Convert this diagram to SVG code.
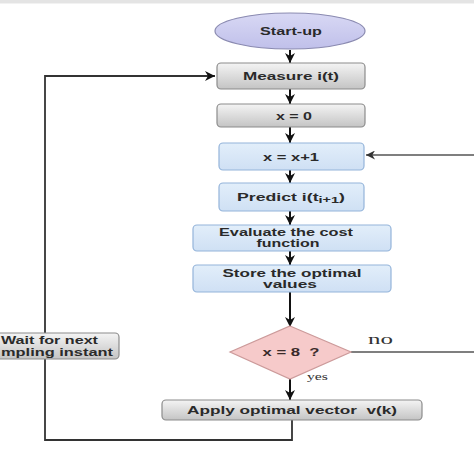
<svg xmlns="http://www.w3.org/2000/svg" width="474" height="474" viewBox="0 0 474 474">
<defs>
<linearGradient id="gGray" x1="0" y1="0" x2="0" y2="1">
<stop offset="0" stop-color="#f4f4f4"/><stop offset="1" stop-color="#c4c4c4"/>
</linearGradient>
<linearGradient id="gBlue" x1="0" y1="0" x2="0" y2="1">
<stop offset="0" stop-color="#e2eefa"/><stop offset="1" stop-color="#cfe0f4"/>
</linearGradient>
<linearGradient id="gEll" x1="0" y1="0" x2="0" y2="1">
<stop offset="0" stop-color="#d8d8f4"/><stop offset="1" stop-color="#c0c0ea"/>
</linearGradient>
<marker id="ah" viewBox="0 0 10 10" refX="10" refY="5" markerWidth="10" markerHeight="10" markerUnits="userSpaceOnUse" orient="auto">
<path d="M0,0 L10,5 L0,10 L3,5 z" fill="#111"/>
</marker>
<marker id="ahg" viewBox="0 0 10 10" refX="10" refY="5" markerWidth="10" markerHeight="9" markerUnits="userSpaceOnUse" orient="auto">
<path d="M0,0 L10,5 L0,10 L3,5 z" fill="#333"/>
</marker>
</defs>
<style>
.gray{fill:url(#gGray);stroke:#8c8c8c;stroke-width:1.2}
.blue{fill:url(#gBlue);stroke:#94b4da;stroke-width:1.2}
.t{font-family:"Liberation Sans",Arial,sans-serif;font-weight:bold;font-size:11px;fill:#2a2a2a;text-anchor:middle;white-space:pre}
.s{font-family:"Liberation Serif","Times New Roman",serif;fill:#333}
.arr{stroke:#111;stroke-width:2;fill:none;marker-end:url(#ah)}
.ln{stroke:#333;stroke-width:1.8;fill:none}
.lg{stroke:#555;stroke-width:1.5;fill:none}
</style>
<rect x="0" y="0" width="474" height="3" fill="#e4e4e4"/>
<rect x="0" y="3" width="474" height="1" fill="#f2f2f2"/>

<g id="connectors">
<line class="arr" x1="290" y1="50" x2="290" y2="63"/>
<line class="arr" x1="290" y1="89" x2="290" y2="104"/>
<line class="arr" x1="290" y1="127" x2="290" y2="143"/>
<line class="arr" x1="290" y1="170" x2="290" y2="183"/>
<line class="arr" x1="290" y1="211" x2="290" y2="225"/>
<line class="arr" x1="290" y1="251" x2="290" y2="265"/>
<line class="arr" x1="290" y1="292" x2="290" y2="327"/>
<line class="arr" x1="290" y1="379" x2="290" y2="400"/>
<polyline class="ln" points="292,420 292,440 45,440 45,359"/>
<polyline class="ln" points="45,333 45,76 215,76" style="marker-end:url(#ah)"/>
<polyline class="lg" points="351,352 474,352"/>
<line class="lg" x1="474" y1="155" x2="366" y2="155" style="marker-end:url(#ahg)"/>
</g>

<g id="start">
<ellipse cx="290" cy="31" rx="75" ry="18" fill="url(#gEll)" stroke="#8a8ab0" stroke-width="1.2"/>
<text class="t" x="291" y="35" textLength="62" lengthAdjust="spacingAndGlyphs">Start-up</text>
</g>
<g id="measure">
<rect class="gray" x="217" y="63" width="148" height="26" rx="4"/>
<text class="t" x="291" y="80" textLength="96" lengthAdjust="spacingAndGlyphs">Measure i(t)</text>
</g>
<g id="x0">
<rect class="gray" x="217" y="104" width="148" height="23" rx="4"/>
<text class="t" x="294" y="120" textLength="36" lengthAdjust="spacingAndGlyphs">x = 0</text>
</g>
<g id="xinc">
<rect class="blue" x="219" y="143" width="145" height="27" rx="4"/>
<text class="t" x="291" y="161" textLength="56" lengthAdjust="spacingAndGlyphs">x = x+1</text>
</g>
<g id="predict">
<rect class="blue" x="219" y="183" width="145" height="28" rx="4"/>
<text class="t" x="291" y="201" textLength="108" lengthAdjust="spacingAndGlyphs">Predict i(t<tspan font-size="9" dy="2">i+1</tspan><tspan dy="-2">)</tspan></text>
</g>
<g id="evaluate">
<rect class="blue" x="193" y="225" width="198" height="26" rx="4"/>
<text class="t" x="286" y="236" textLength="134" lengthAdjust="spacingAndGlyphs">Evaluate the cost</text>
<text class="t" x="288" y="247" textLength="63" lengthAdjust="spacingAndGlyphs">function</text>
</g>
<g id="store">
<rect class="blue" x="193" y="265" width="198" height="27" rx="4"/>
<text class="t" x="292" y="277" textLength="139" lengthAdjust="spacingAndGlyphs">Store the optimal</text>
<text class="t" x="290" y="288" textLength="54" lengthAdjust="spacingAndGlyphs">values</text>
</g>
<g id="decision">
<polygon points="290,326 351,352 290,379 230,352" fill="#f6caca" stroke="#cc9a9a" stroke-width="1.2"/>
<text class="t" x="291" y="356" textLength="57" lengthAdjust="spacingAndGlyphs" style="fill:#3a2a2a">x = 8  ?</text>
<text class="s" x="368" y="344" font-size="15" textLength="25" lengthAdjust="spacingAndGlyphs">no</text>
<text class="s" x="307" y="380" font-size="11" textLength="21" lengthAdjust="spacingAndGlyphs">yes</text>
</g>
<g id="apply">
<rect class="gray" x="162" y="400" width="260" height="20" rx="4"/>
<text class="t" x="292" y="414" textLength="210" lengthAdjust="spacingAndGlyphs">Apply optimal vector  v(k)</text>
</g>
<g id="wait">
<rect class="gray" x="-30" y="333" width="149" height="26" rx="4"/>
<text class="t" x="1" y="344" style="text-anchor:start" textLength="97" lengthAdjust="spacingAndGlyphs">Wait for next</text>
<text class="t" x="1" y="356" style="text-anchor:start" textLength="112" lengthAdjust="spacingAndGlyphs">mpling instant</text>
</g>
</svg>
